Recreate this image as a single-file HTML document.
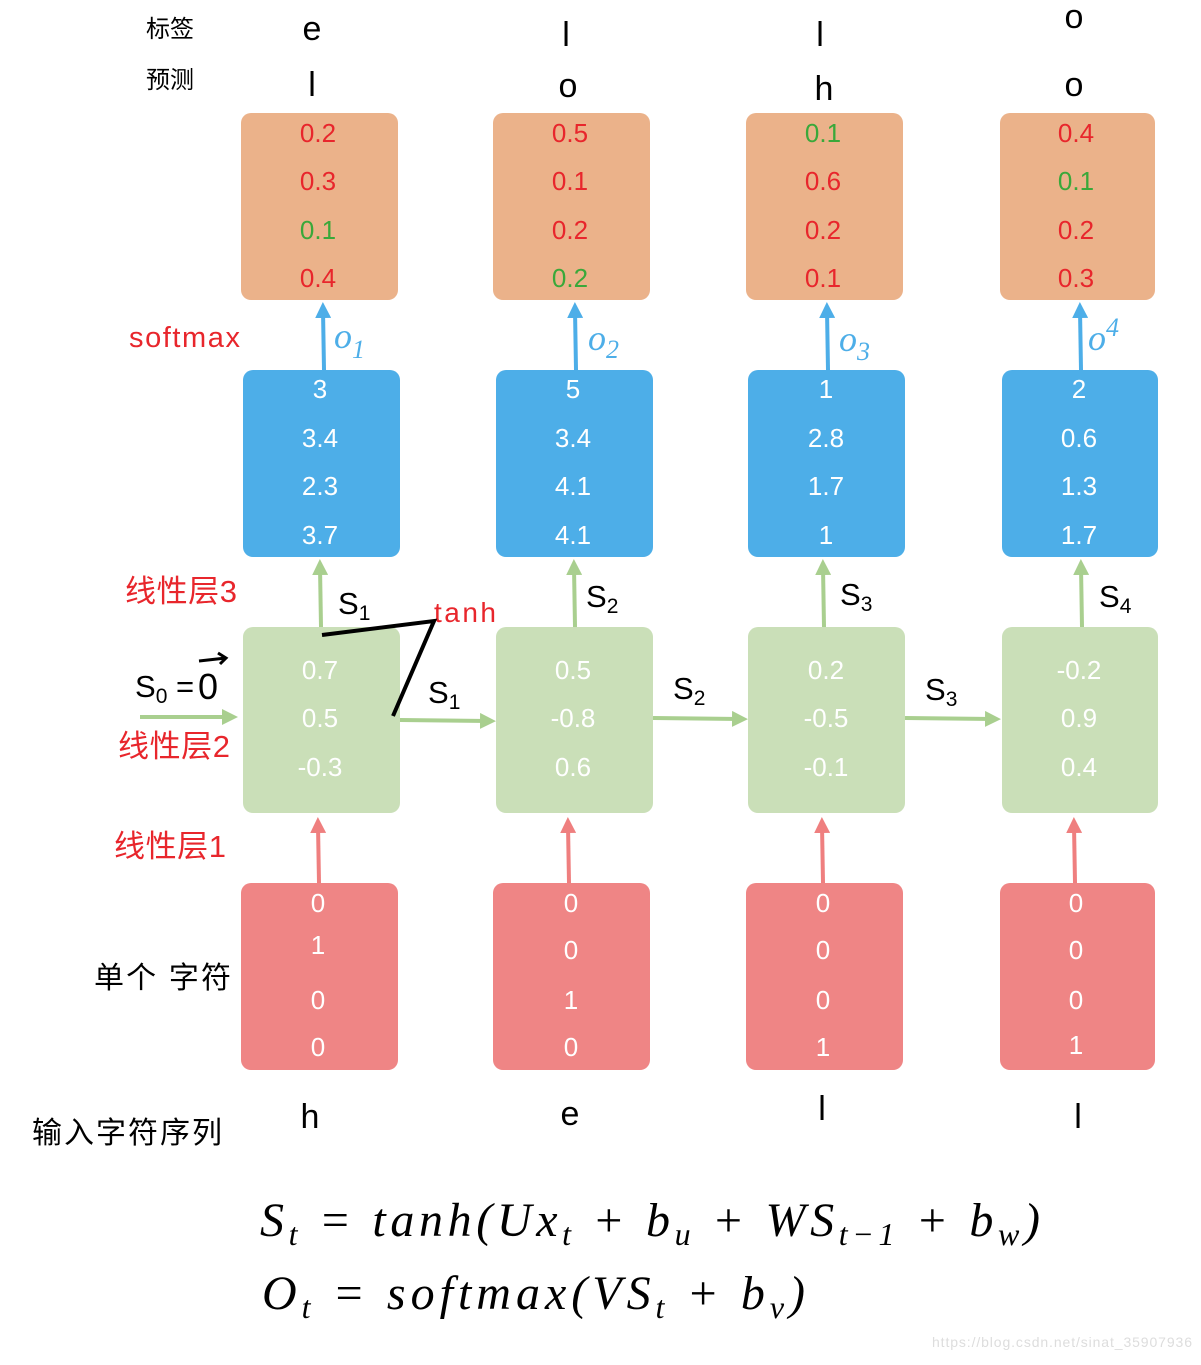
<!DOCTYPE html>
<html><head><meta charset="utf-8"><style>
body{margin:0;background:#fff;}
svg text{font-family:"Liberation Sans","Noto Sans CJK SC",sans-serif;}
.m{font-family:"Liberation Serif",serif;font-style:italic;}
</style></head><body>
<svg width="1201" height="1360" viewBox="0 0 1201 1360" xmlns="http://www.w3.org/2000/svg">
<defs>
<marker id="ab" markerWidth="4" markerHeight="4" refX="2" refY="2" orient="auto"><path d="M0,0 L4,2 L0,4z" fill="#4daee8"/></marker>
<marker id="ag" markerWidth="4" markerHeight="4" refX="2" refY="2" orient="auto"><path d="M0,0 L4,2 L0,4z" fill="#a9cf8f"/></marker>
<marker id="ar" markerWidth="4" markerHeight="4" refX="2" refY="2" orient="auto"><path d="M0,0 L4,2 L0,4z" fill="#ef7f7f"/></marker>
</defs>
<g font-size="24" fill="#000">
<text x="146" y="37">标签</text>
<text x="146" y="88">预测</text>
<text x="94" y="988" font-size="30" textLength="137">单个 字符</text>
<text x="32" y="1143" font-size="30" textLength="190">输入字符序列</text>
</g>
<g font-size="31" fill="#e8262c">
<text x="129" y="347" font-size="29" textLength="111">softmax</text>
<text x="125" y="602" textLength="112">线性层3</text>
<text x="118" y="757" textLength="112">线性层2</text>
<text x="114" y="857" textLength="112">线性层1</text>
<text x="434" y="622" font-size="28" textLength="62">tanh</text>
</g>
<g font-size="34" fill="#000" text-anchor="middle">
<text x="312" y="40">e</text><text x="566" y="46">l</text><text x="820" y="46">l</text><text x="1074" y="28">o</text>
<text x="312" y="96">l</text><text x="568" y="97">o</text><text x="824" y="100">h</text><text x="1074" y="96">o</text>
<text x="310" y="1128">h</text><text x="570" y="1125">e</text><text x="822" y="1120">l</text><text x="1078" y="1128">l</text>
</g>
<g fill="#ebb28a"><rect x="241" y="113" width="157" height="187" rx="10"/><rect x="493" y="113" width="157" height="187" rx="10"/><rect x="746" y="113" width="157" height="187" rx="10"/><rect x="1000" y="113" width="155" height="187" rx="10"/></g>
<g fill="#4daee8"><rect x="243" y="370" width="157" height="187" rx="10"/><rect x="496" y="370" width="157" height="187" rx="10"/><rect x="748" y="370" width="157" height="187" rx="10"/><rect x="1002" y="370" width="156" height="187" rx="10"/></g>
<g fill="#cadfb8"><rect x="243" y="627" width="157" height="186" rx="10"/><rect x="496" y="627" width="157" height="186" rx="10"/><rect x="748" y="627" width="157" height="186" rx="10"/><rect x="1002" y="627" width="156" height="186" rx="10"/></g>
<g fill="#ef8585"><rect x="241" y="883" width="157" height="187" rx="10"/><rect x="493" y="883" width="157" height="187" rx="10"/><rect x="746" y="883" width="157" height="187" rx="10"/><rect x="1000" y="883" width="155" height="187" rx="10"/></g>
<g font-size="26" text-anchor="middle" fill="#e8262c">
<text x="318" y="142">0.2</text><text x="318" y="190">0.3</text><text x="318" y="239" fill="#3aa83a">0.1</text><text x="318" y="287">0.4</text>
<text x="570" y="142">0.5</text><text x="570" y="190">0.1</text><text x="570" y="239">0.2</text><text x="570" y="287" fill="#3aa83a">0.2</text>
<text x="823" y="142" fill="#3aa83a">0.1</text><text x="823" y="190">0.6</text><text x="823" y="239">0.2</text><text x="823" y="287">0.1</text>
<text x="1076" y="142">0.4</text><text x="1076" y="190" fill="#3aa83a">0.1</text><text x="1076" y="239">0.2</text><text x="1076" y="287">0.3</text>
</g>
<g font-size="26" text-anchor="middle" fill="#fff">
<text x="320" y="398">3</text><text x="320" y="447">3.4</text><text x="320" y="495">2.3</text><text x="320" y="544">3.7</text>
<text x="573" y="398">5</text><text x="573" y="447">3.4</text><text x="573" y="495">4.1</text><text x="573" y="544">4.1</text>
<text x="826" y="398">1</text><text x="826" y="447">2.8</text><text x="826" y="495">1.7</text><text x="826" y="544">1</text>
<text x="1079" y="398">2</text><text x="1079" y="447">0.6</text><text x="1079" y="495">1.3</text><text x="1079" y="544">1.7</text>
<text x="320" y="679">0.7</text><text x="320" y="727">0.5</text><text x="320" y="776">-0.3</text>
<text x="573" y="679">0.5</text><text x="573" y="727">-0.8</text><text x="573" y="776">0.6</text>
<text x="826" y="679">0.2</text><text x="826" y="727">-0.5</text><text x="826" y="776">-0.1</text>
<text x="1079" y="679">-0.2</text><text x="1079" y="727">0.9</text><text x="1079" y="776">0.4</text>
<text x="318" y="912">0</text><text x="318" y="954">1</text><text x="318" y="1009">0</text><text x="318" y="1056">0</text>
<text x="571" y="912">0</text><text x="571" y="959">0</text><text x="571" y="1009">1</text><text x="571" y="1056">0</text>
<text x="823" y="912">0</text><text x="823" y="959">0</text><text x="823" y="1009">0</text><text x="823" y="1056">1</text>
<text x="1076" y="912">0</text><text x="1076" y="959">0</text><text x="1076" y="1009">0</text><text x="1076" y="1054">1</text>
</g>
<g stroke="#4daee8" stroke-width="4" marker-end="url(#ab)">
<line x1="324" y1="370" x2="323" y2="310"/><line x1="576" y1="370" x2="575" y2="310"/><line x1="828" y1="370" x2="827" y2="310"/><line x1="1081" y1="370" x2="1080" y2="310"/>
</g>
<g stroke="#a9cf8f" stroke-width="4" marker-end="url(#ag)">
<line x1="321" y1="627" x2="320" y2="567"/><line x1="575" y1="627" x2="574" y2="567"/><line x1="824" y1="627" x2="823" y2="567"/><line x1="1082" y1="627" x2="1081" y2="567"/>
<line x1="140" y1="717" x2="230" y2="717"/><line x1="400" y1="720" x2="488" y2="721"/><line x1="653" y1="718" x2="740" y2="719"/><line x1="905" y1="718" x2="993" y2="719"/>
</g>
<g stroke="#ef7f7f" stroke-width="4" marker-end="url(#ar)">
<line x1="319" y1="883" x2="318" y2="825"/><line x1="569" y1="883" x2="568" y2="825"/><line x1="823" y1="883" x2="822" y2="825"/><line x1="1075" y1="883" x2="1074" y2="825"/>
</g>
<polyline points="322,635 434,621 393,716" fill="none" stroke="#000" stroke-width="4"/>
<g font-size="31" fill="#000">
<text x="338" y="614">S<tspan font-size="21" dy="6">1</tspan></text>
<text x="586" y="607">S<tspan font-size="21" dy="6">2</tspan></text>
<text x="840" y="605">S<tspan font-size="21" dy="6">3</tspan></text>
<text x="1099" y="607">S<tspan font-size="21" dy="6">4</tspan></text>
<text x="428" y="703">S<tspan font-size="21" dy="6">1</tspan></text>
<text x="673" y="699">S<tspan font-size="21" dy="6">2</tspan></text>
<text x="925" y="700">S<tspan font-size="21" dy="6">3</tspan></text>
<text x="135" y="697">S<tspan font-size="21" dy="6">0</tspan></text>
<text x="176" y="697">=</text>
<text x="198" y="699" font-size="36">0</text>
</g>
<path d="M199,661 L226,658 M218,653 L226,658 L220,664" stroke="#000" stroke-width="3" fill="none"/>
<g fill="#4daee8" font-size="36">
<text x="334" y="348" class="m">o<tspan font-size="26" dy="10">1</tspan></text>
<text x="588" y="350" class="m">o<tspan font-size="26" dy="8">2</tspan></text>
<text x="839" y="351" class="m">o<tspan font-size="26" dy="9">3</tspan></text>
<text x="1088" y="350" class="m">o<tspan font-size="26" dy="-14">4</tspan></text>
</g>
<g font-size="48" fill="#000">
<text x="260" y="1236" class="m" textLength="780" lengthAdjust="spacing">S<tspan font-size="32" dy="9">t</tspan><tspan dy="-9"> = tanh(Ux</tspan><tspan font-size="32" dy="9">t</tspan><tspan dy="-9"> + b</tspan><tspan font-size="32" dy="9">u</tspan><tspan dy="-9"> + WS</tspan><tspan font-size="32" dy="9">t−1</tspan><tspan dy="-9"> + b</tspan><tspan font-size="32" dy="9">w</tspan><tspan dy="-9">)</tspan></text>
<text x="262" y="1309" class="m" textLength="543" lengthAdjust="spacing">O<tspan font-size="32" dy="9">t</tspan><tspan dy="-9"> = softmax(VS</tspan><tspan font-size="32" dy="9">t</tspan><tspan dy="-9"> + b</tspan><tspan font-size="32" dy="9">v</tspan><tspan dy="-9">)</tspan></text>
</g>
<text x="932" y="1347" font-size="14" fill="#ddd" textLength="260">https://blog.csdn.net/sinat_35907936</text>
</svg>
</body></html>
